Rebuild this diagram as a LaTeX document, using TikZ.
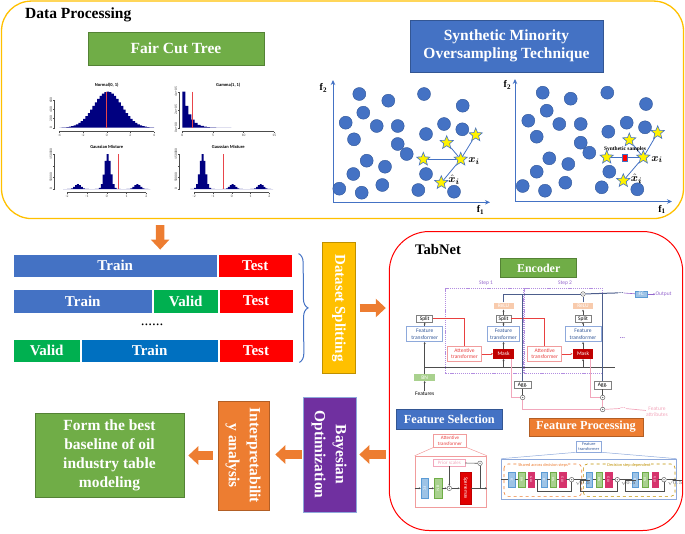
\documentclass[tikz,border=0pt]{standalone}
\usepackage{fontspec}
\setmainfont{Liberation Serif}
\newfontfamily\labelsans{Carlito}
\usepackage{amsmath}
\usepackage{bm}
\usepackage{graphicx}
\usepackage{tikz}
\usetikzlibrary{arrows.meta}
\usetikzlibrary{positioning}
\usetikzlibrary{calc}
\usetikzlibrary{shapes.geometric}
\usetikzlibrary{decorations.pathreplacing}

\definecolor{dpyellow}{HTML}{FFC000}
\definecolor{goldedge}{HTML}{BF9000}
\definecolor{leafgreen}{HTML}{70AD47}
\definecolor{officeblue}{HTML}{4472C4}
\definecolor{deepblue}{HTML}{0070C0}
\definecolor{testred}{HTML}{FF0000}
\definecolor{validgreen}{HTML}{00B050}
\definecolor{arroworange}{HTML}{ED7D31}
\definecolor{baypurple}{HTML}{7030A0}
\definecolor{histnavy}{HTML}{000080}
\definecolor{histred}{HTML}{E8454A}
\definecolor{ftblue}{HTML}{8EA9DB}
\definecolor{ftdark}{HTML}{2F5597}
\definecolor{attpink}{HTML}{F19C9C}
\definecolor{attred}{HTML}{E8403F}
\definecolor{maskred}{HTML}{C00000}
\definecolor{relupeach}{HTML}{F8CBAD}
\definecolor{bnlight}{HTML}{A9D18E}
\definecolor{fclight}{HTML}{9DC3E6}
\definecolor{fcedge}{HTML}{5B9BD5}
\definecolor{steppurple}{HTML}{B28DE0}
\definecolor{steptext}{HTML}{9466CC}
\definecolor{flowgray}{HTML}{4D4D4D}
\definecolor{topblue}{HTML}{4D5E8C}
\definecolor{pinkline}{HTML}{F2A7BC}
\definecolor{glupink}{HTML}{D6336C}
\definecolor{sparsered}{HTML}{E00000}

\tikzset{headtext/.style={font=\bfseries\fontsize{15.5}{18}\selectfont,
                          inner sep=0pt}}
\tikzset{hdbox/.style={fill=#1,
                       draw=#1!75!black,
                       line width=0.6pt,
                       inner sep=0pt,
                       text=white,
                       align=center,
                       font=\bfseries\fontsize{15.5}{18}\selectfont}}
\tikzset{seg/.style={draw=white,
                     line width=0.8pt,
                     inner sep=0pt,
                     text=white,
                     minimum height=23pt,
                     font=\bfseries\fontsize{15}{17}\selectfont}}
\tikzset{bigarrow/.style={draw=arroworange,
                          line width=8.5pt,
                          -{Triangle[width=18pt,length=10pt]}}}
\tikzset{splitbrace/.style={draw=officeblue,
                            line width=1pt,
                            decorate,
                            decoration={brace,amplitude=9pt}}}
\tikzset{histaxis/.style={draw=black!70,line width=0.3pt}}
\tikzset{histred line/.style={draw=histred,line width=0.8pt}}
\tikzset{ticklab/.style={font=\labelsans\fontsize{3.6}{3.6}\selectfont,
                         inner sep=0.6pt,
                         text=black!75}}
\tikzset{histtitle/.style={font=\labelsans\bfseries\fontsize{4.5}{4.5}\selectfont,
                           inner sep=0pt}}
\tikzset{axisline/.style={draw=officeblue,
                          line width=1pt,
                          {Stealth[length=5pt,width=4.5pt]}-{Stealth[length=5pt,width=4.5pt]}}}
\tikzset{axislabel/.style={font=\fontsize{10}{12}\selectfont,inner sep=0pt}}
\tikzset{bluedot/.style={circle,
                         fill=officeblue,
                         draw=ftdark,
                         line width=0.4pt,
                         minimum size=13pt,
                         inner sep=0pt}}
\tikzset{minority/.style={star,
                          star points=5,
                          star point ratio=2.3,
                          fill=yellow,
                          draw=officeblue,
                          line width=0.6pt,
                          minimum size=14pt,
                          inner sep=0pt}}
\tikzset{linkline/.style={draw=officeblue,line width=0.8pt}}
\tikzset{tabtext/.style={font=\labelsans\fontsize{5.5}{6.4}\selectfont,
                         inner sep=0pt,
                         align=center}}
\tikzset{ftbox/.style={tabtext,draw=ftblue,text=ftdark,line width=0.6pt,
                       minimum width=36pt,minimum height=15pt}}
\tikzset{splitbox/.style={tabtext,draw=gray,line width=0.5pt,
                          minimum width=16pt,minimum height=7pt}}
\tikzset{attbox/.style={tabtext,draw=attpink,text=attred,line width=0.6pt,
                        minimum width=34pt,minimum height=14.5pt}}
\tikzset{maskbox/.style={tabtext,fill=maskred,text=white,
                         minimum width=20.6pt,minimum height=10pt}}
\tikzset{relubox/.style={tabtext,fill=relupeach,text=white,
                         minimum width=20pt,minimum height=6.7pt}}
\tikzset{bnbox/.style={tabtext,fill=bnlight,text=white,
                       minimum width=21pt,minimum height=7pt}}
\tikzset{aggbox/.style={tabtext,draw=gray,line width=0.5pt,fill=white,
                        minimum width=17.4pt,minimum height=7.6pt}}
\tikzset{fcbox/.style={tabtext,fill=fclight,draw=fcedge,text=white,
                       minimum width=12.3pt,minimum height=6.3pt}}
\tikzset{vblock/.style={tabtext,text=white,line width=0.4pt,
                        font=\labelsans\fontsize{4}{4}\selectfont}}
\tikzset{opsum/.style={circle,
                       draw=flowgray,
                       fill=white,
                       line width=0.4pt,
                       minimum size=4.6pt,
                       inner sep=0pt,
                       path picture={\fill[flowgray] (path picture bounding box.center) circle (0.6pt);}}}
\tikzset{stepframe/.style={draw=steppurple,line width=0.6pt,dash pattern=on 1.2pt off 0.9pt}}
\tikzset{flow/.style={draw=flowgray,line width=0.6pt}}
\tikzset{redflow/.style={draw=attred,line width=0.6pt}}
\tikzset{pinkflow/.style={draw=pinkline,line width=0.7pt}}
\tikzset{topflow/.style={draw=topblue,line width=1pt}}
\tikzset{tinytip/.style={-{Stealth[length=2pt,width=2pt]}}}

\begin{document}
\begin{tikzpicture}[x=1pt,y=-1pt]
\useasboundingbox (0,0) rectangle (685,533);

% data processing panel
\node[draw=dpyellow,line width=1.3pt,rounded corners=30pt,inner sep=0pt,
      minimum width=682pt,minimum height=217.5pt] (dp) at (342.5,109.8) {};
\node[headtext,anchor=west] (dptitle) at (25,14.5) {Data Processing};
\node[hdbox=leafgreen,minimum width=176pt,minimum height=33pt] (fct) at (176,48.5) {Fair Cut Tree};
\node[hdbox=officeblue,minimum width=193pt,minimum height=52pt] (smote) at (506.5,46)
  {Synthetic Minority\\Oversampling Technique};

% histograms
\fill[histnavy] (59.3,127.7) -- plot[const plot,domain=-4:4,samples=41]
  ({106.7+11.84*\x},{127.7-36*exp(-0.35*(\x)*(\x))}) -- (154,127.7) -- cycle;
\draw[histred line] (106.7,91.7) -- (106.7,127.7);
\node[histtitle] (h1) at (106.7,85) {Normal(0, 1)};
\draw[histaxis] (59.3,131.5) -- (154,131.5);
\foreach \t in {-4,-2,...,4}
  \draw[histaxis] ({106.7+11.84*\t},131.5) -- ++(0,1.6) node[ticklab,below] (hxa\t) {\t};
\draw[histaxis] (54.5,127.7) -- (54.5,100.1);
\foreach \k/\l in {0/0,1/200,2/400,3/600}
  \draw[histaxis] (54.5,{127.7-9.2*\k}) -- ++(-1.6,0) node[ticklab,rotate=90,anchor=south] (hya\k) {\l};

\fill[histnavy] (182.3,127.7) -- plot[const plot,domain=0:8,samples=17]
  ({182.3+6.13*\x},{127.7-36*exp(-\x)}) -- (231.3,127.7) -- cycle;
\draw[histred line] (192.3,91.7) -- (192.3,127.7);
\node[histtitle] (h2) at (228.3,85) {Gamma(1, 1)};
\draw[histaxis] (182.3,131.5) -- (274.3,131.5);
\foreach \t in {0,5,10,15}
  \draw[histaxis] ({182.3+6.13*\t},131.5) -- ++(0,1.6) node[ticklab,below] (hxb\t) {\t};
\draw[histaxis] (179.5,127.7) -- (179.5,91.7);
\foreach \k/\l in {0/0e+00,1/2e+05,2/4e+05}
  \draw[histaxis] (179.5,{127.7-18*\k}) -- ++(-1.6,0) node[ticklab,rotate=90,anchor=south] (hyb\k) {\l};

\fill[histnavy] (63.1,189) -- plot[const plot,domain=-2.2:2.2,samples=45]
  ({106.7+19.8*\x},{189-35*(exp(-22*(\x)*(\x))+0.14*exp(-22*(\x+1.5)*(\x+1.5))+0.14*exp(-22*(\x-1.5)*(\x-1.5)))})
  -- (150.3,189) -- cycle;
\draw[histred line] (118.3,154) -- (118.3,189);
\node[histtitle] (h3) at (106.7,146.7) {Gaussian Mixture};
\draw[histaxis] (67.1,192.5) -- (146.3,192.5);
\foreach \t in {-2,...,2}
  \draw[histaxis] ({106.7+19.8*\t},192.5) -- ++(0,1.6) node[ticklab,below] (hxc\t) {\t};
\draw[histaxis] (54.5,189) -- (54.5,154);
\foreach \k in {0,1,2,3}
  \draw[histaxis] (54.5,{189-11.67*\k}) -- ++(-1.6,0);
\foreach \k/\l in {0/0,1/50000,3/150000}
  \node[ticklab,rotate=90,anchor=south] (hyc\k) at (52.9,{189-11.67*\k}) {\l};

\fill[histnavy] (190.5,189) -- plot[const plot,domain=-2.2:2.2,samples=45]
  ({231.7+18.75*\x},{189-35*(exp(-22*(\x+1.6)*(\x+1.6))+0.14*exp(-22*(\x)*(\x))+0.14*exp(-22*(\x-1.5)*(\x-1.5)))})
  -- (273,189) -- cycle;
\draw[histred line] (223.3,154) -- (223.3,189);
\node[histtitle] (h4) at (228.3,146.7) {Gaussian Mixture};
\draw[histaxis] (194.2,192.5) -- (269.2,192.5);
\foreach \t in {-2,...,2}
  \draw[histaxis] ({231.7+18.75*\t},192.5) -- ++(0,1.6) node[ticklab,below] (hxd\t) {\t};
\draw[histaxis] (179.5,189) -- (179.5,154);
\foreach \k in {0,1,2,3}
  \draw[histaxis] (179.5,{189-11.67*\k}) -- ++(-1.6,0);
\foreach \k/\l in {0/0,1/50000,3/150000}
  \node[ticklab,rotate=90,anchor=south] (hyd\k) at (177.9,{189-11.67*\k}) {\l};

% smote, before
\draw[axisline] (333,80) -- (333,202.3) -- (490,202.3);
\node[axislabel] (f2a) at (323.3,88) {\textbf{f}\textsubscript{\textbf{2}}};
\node[axislabel] (f1a) at (480.5,210) {\textbf{f}\textsubscript{\textbf{1}}};
\foreach \x/\y [count=\i] in
  {359.3/94,388.3/100.7,424/94,462.7/105.7,363.3/112.7,345.7/122.7,376.7/126,
   397.7/126,354/139.3,397.7/144,406.7/154,426/134,444/124,462.3/129.3,
   366.7/160.7,385/166.7,353.3/174,339.3/188.7,361.7/192.7,382.3/185,
   418.3/190,426/174,454/191.7}
  \node[bluedot] (pa\i) at (\x,\y) {};
\node[minority] (na1) at (446.7,142.7) {};
\node[minority] (na2) at (475.7,135) {};
\node[minority] (na3) at (423.3,159.3) {};
\node[minority] (xa) at (460.7,159.3) {};
\node[minority] (xha) at (441.3,182.7) {};
\draw[linkline] (xa) -- (na1);
\draw[linkline] (xa) -- (na2);
\draw[linkline] (xa) -- (na3);
\draw[linkline] (xa) -- (xha);
\node[axislabel,font=\fontsize{11}{13}\selectfont] (xal) at (474,161) {$\bm{x_i}$};
\node[axislabel,font=\fontsize{11}{13}\selectfont] (xhal) at (454,179.5) {$\hat{\bm{x}}_{\bm{i}}$};

% smote, after
\draw[axisline] (515,79) -- (515,201.5) -- (672,201.5);
\node[axislabel] (f2b) at (507.3,85) {\textbf{f}\textsubscript{\textbf{2}}};
\node[axislabel] (f1b) at (662,209.5) {\textbf{f}\textsubscript{\textbf{1}}};
\foreach \x/\y [count=\i] in
  {542.7/92.7,570.7/98.7,607.3/92.7,646/104,546.7/110.7,528.3/120.7,559.3/124,
   580.7/124,536.7/136.7,580.7/142.7,589.3/152.7,608.3/131.7,626.7/122.7,
   645/127.3,549.3/158.3,568.3/164,536.7/171.7,522.7/186,545/190.7,
   565.3/182.7,601.7/187.3,609.3/171.7,637.3/189.3}
  \node[bluedot] (pb\i) at (\x,\y) {};
\node[minority] (nb1) at (629.3,140) {};
\node[minority] (nb2) at (657.7,132.7) {};
\node[minority] (nb3) at (606.7,157.3) {};
\node[minority] (xb) at (643.3,157.3) {};
\node[minority] (xhb) at (623.3,180.7) {};
\node[draw=officeblue,fill=testred,line width=0.4pt,inner sep=0pt,
      minimum width=5pt,minimum height=7pt] (synth) at (625,157.3) {};
\draw[linkline] (xb) -- (nb1);
\draw[linkline] (xb) -- (nb2);
\draw[linkline] (nb3) -- (synth) -- (xb);
\draw[linkline] (xb) -- (xhb);
\node[font=\bfseries\fontsize{5.5}{6}\selectfont,inner sep=0pt] (synthlab) at (625,149.3) {Synthetic samples};
\node[axislabel,font=\fontsize{11}{13}\selectfont] (xbl) at (657,159.5) {$\bm{x_i}$};
\node[axislabel,font=\fontsize{11}{13}\selectfont] (xhbl) at (636.5,178.5) {$\hat{\bm{x}}_{\bm{i}}$};

% dataset splitting
\node[seg,fill=officeblue,minimum width=204.3pt,anchor=west] (train1) at (12.7,265.5) {Train};
\node[seg,fill=testred,minimum width=74pt,right=0pt of train1] (test1) {Test};
\node[seg,fill=officeblue,minimum width=139.3pt,minimum height=24pt,anchor=west] (train2) at (12.7,301) {Train};
\node[seg,fill=validgreen,minimum width=65pt,minimum height=24pt,right=0pt of train2] (valid2) {Valid};
\node[seg,fill=testred,minimum width=74pt,minimum height=24pt,right=0pt of valid2] (test2) {Test};
\node[font=\fontsize{15}{17}\selectfont,inner sep=0pt] (more) at (152,325) {......};
\node[seg,fill=validgreen,minimum width=67.3pt,anchor=west] (valid3) at (12.7,350.5) {Valid};
\node[seg,fill=deepblue,minimum width=137pt,right=0pt of valid3] (train3) {Train};
\node[seg,fill=testred,minimum width=74pt,right=0pt of train3] (test3) {Test};
\draw[splitbrace] ([xshift=6pt]test1.north east) -- ([xshift=6pt]test3.south east);
\node[hdbox=dpyellow,minimum width=32.6pt,minimum height=130.6pt,
      font=\bfseries\fontsize{15}{18}\selectfont] (dsplit) at (339,308)
  {\rotatebox{-90}{Dataset Splitting}};

% tabnet panel
\node[draw=testred,line width=1pt,rounded corners=40pt,inner sep=0pt,
      minimum width=293.4pt,minimum height=299pt] (tabnet) at (536,381) {};
\node[headtext,font=\bfseries\fontsize{14.6}{17}\selectfont,anchor=west] (tabtitle) at (415,250) {TabNet};
\node[hdbox=leafgreen,minimum width=76pt,minimum height=19.4pt,
      font=\bfseries\fontsize{12}{14}\selectfont] (enc) at (538.7,268) {Encoder};

% encoder, steps
\draw[stepframe] (445,288.3) rectangle (523.5,373.3);
\draw[stepframe] (524.5,288.3) rectangle (602.7,373.3);
\node[tabtext,text=steptext] (st1) at (486,283.6) {Step 1};
\node[tabtext,text=steptext] (st2) at (565,283.6) {Step 2};

\node[splitbox] (split0) at (424.7,318.7) {Split};
\node[ftbox] (ft0) at (424.7,334.2) {Feature\\transformer};
\node[bnbox] (bn0) at (424.7,377.3) {BN};
\node[tabtext] (feats) at (424.7,393.3) {Features};

\node[attbox] (att1) at (464.5,353.8) {Attentive\\transformer};
\node[maskbox] (mask1) at (503.5,353.8) {Mask};
\node[ftbox,minimum width=32pt] (ft1) at (503.5,334.2) {Feature\\transformer};
\node[splitbox,minimum width=15pt] (split1) at (503.5,318.7) {Split};
\node[relubox] (relu1) at (503.5,306) {ReLU};

\node[attbox] (att2) at (544.7,353.8) {Attentive\\transformer};
\node[maskbox] (mask2) at (583,353.8) {Mask};
\node[ftbox] (ft2) at (583,334.2) {Feature\\transformer};
\node[splitbox] (split2) at (583,318.7) {Split};
\node[relubox] (relu2) at (583,306) {ReLU};

\node[opsum] (sumtop) at (583,294) {};
\node[aggbox] (agg1) at (522.7,384.8) {Agg.};
\node[aggbox] (agg2) at (602.7,385) {Agg.};
\node[opsum] (sum1) at (522.7,397.5) {};
\node[opsum] (sum2) at (602.7,397.5) {};
\node[opsum] (sum3) at (602.7,409.5) {};
\node[tabtext,text=topblue,font=\bfseries\fontsize{7}{7}\selectfont] (dotsA) at (621,292.8) {...};
\node[fcbox] (fcout) at (641.2,294.2) {FC};
\node[tabtext,text=steptext] (out) at (663.5,294.2) {Output};
\node[tabtext,text=steptext,font=\bfseries\fontsize{7}{7}\selectfont] (dotsB) at (622.5,338.5) {...};
\node[tabtext,text=pinkline,font=\bfseries\fontsize{7}{7}\selectfont] (dotsC) at (623,408.3) {...};
\node[tabtext,text=pinkline] (attr) at (657,411.5) {Feature\\attributes};

% encoder, connections
\coordinate (base0) at (424.7,367.3);
\coordinate (base1) at (615,367.3);
\draw[flow] (base0) -- (base1);
\draw[flow,tinytip] (feats) -- (bn0);
\draw[flow,tinytip] (bn0) -- (ft0);
\draw[flow,tinytip] (ft0) -- (split0);
\draw[flow,tinytip] (mask1.south |- base0) -- (mask1);
\draw[flow,tinytip] (mask1) -- (ft1);
\draw[flow,tinytip] (ft1) -- (split1);
\draw[flow,tinytip] (split1) -- (relu1);
\draw[flow,tinytip] (mask2.south |- base0) -- (mask2);
\draw[flow,tinytip] (mask2) -- (ft2);
\draw[flow,tinytip] (ft2) -- (split2);
\draw[flow,tinytip] (split2) -- (relu2);
\draw[redflow] (split0.east) -| (att1.north);
\draw[redflow] (split1.east) -| (att2.north);
\draw[redflow,tinytip] (att1) -- (mask1);
\draw[redflow,tinytip] (att2) -- (mask2);
\draw[topflow] (relu1.north) |- (sumtop.west);
\draw[topflow] (relu2) -- (sumtop);
\draw[topflow] (sumtop) -- (dotsA);
\draw[topflow] (agg1.north) -- (agg1.north |- sumtop);
\draw[topflow] (agg2.north) -- (agg2.north |- sumtop);
\draw[flow,draw=steptext] (dotsA) -- (fcout);
\draw[flow,draw=steptext,tinytip] (fcout) -- (out);
\draw[flow] (agg1) -- (sum1);
\draw[flow] (agg2) -- (sum2);
\draw[pinkflow] ([xshift=-3pt]mask1.south east) |- (sum1.west);
\draw[pinkflow] ([xshift=-3pt]mask2.south east) |- (sum2.west);
\draw[pinkflow] (sum1.south) |- (sum3.west);
\draw[pinkflow] (sum2) -- (sum3);
\draw[pinkflow] (sum3) -- (dotsC);
\draw[pinkflow] (dotsC) -- (attr);

% feature selection
\node[hdbox=officeblue,minimum width=106.7pt,minimum height=20pt,
      font=\bfseries\fontsize{12.3}{14}\selectfont] (fsel) at (449.3,419.3) {Feature Selection};
\node[attbox,minimum width=33.4pt,minimum height=13.3pt,
      font=\labelsans\fontsize{5}{5.8}\selectfont] (fsatt) at (450,440.7) {Attentive\\transformer};
\node[draw=attpink,line width=0.6pt,inner sep=0pt,
      minimum width=71.7pt,minimum height=51.3pt] (fsframe) at (450.8,481.7) {};
\draw[draw=attpink,line width=0.5pt] (fsatt.south west) -- (fsframe.north west);
\draw[draw=attpink,line width=0.5pt] (fsatt.south east) -- (fsframe.north east);
\node[tabtext,draw=pinkline,text=pinkline,line width=0.5pt,
      font=\labelsans\fontsize{5}{5}\selectfont,
      minimum width=31.7pt,minimum height=6.7pt] (prior) at (449.3,462.7) {Prior scales};
\node[opsum] (psum) at (480,463.3) {};
\node[vblock,fill=fclight,draw=fcedge,minimum width=7.3pt,minimum height=20pt] (fsfc) at (424.7,488.3) {\rotatebox{-90}{FC}};
\node[vblock,fill=bnlight,draw=leafgreen,minimum width=7.4pt,minimum height=20pt] (fsbn) at (438,488.3) {\rotatebox{-90}{BN}};
\node[opsum] (fssum) at (449.3,488.3) {};
\node[vblock,fill=sparsered,draw=maskred,minimum width=11pt,minimum height=32.3pt,
      font=\labelsans\fontsize{5}{5}\selectfont] (sparse) at (465.5,488) {\rotatebox{-90}{Sparsemax}};
\draw[flow,tinytip] (fsframe.west |- fsfc) -- (fsfc);
\draw[flow,tinytip] (fsfc) -- (fsbn);
\draw[flow,tinytip] (fsbn) -- (fssum);
\draw[flow,tinytip] (fssum) -- (fssum -| sparse.west);
\draw[flow,tinytip] (sparse.east |- fssum) -- (fsframe.east |- fssum);
\draw[flow,tinytip] (prior) -- (fssum);
\draw[flow] (prior) -- (psum);
\draw[flow] (psum) -- (psum |- fssum);

% feature processing
\node[hdbox=arroworange,minimum width=114pt,minimum height=18pt,
      font=\bfseries\fontsize{12.3}{14}\selectfont] (fproc) at (586,427) {Feature Processing};
\node[ftbox,font=\labelsans\fontsize{4.3}{5}\selectfont,
      minimum width=25.7pt,minimum height=10.7pt] (fptr) at (588.8,446.7) {Feature\\transformer};
\node[draw=ftblue,line width=0.6pt,inner sep=0pt,
      minimum width=174.3pt,minimum height=40.7pt] (fpframe) at (588.8,479.3) {};
\draw[draw=ftblue,line width=0.5pt] (fptr.south west) -- (fpframe.north west);
\draw[draw=ftblue,line width=0.5pt] (fptr.south east) -- (fpframe.north east);
\draw[draw=arroworange,line width=0.6pt,dashed,rounded corners=4pt] (504,464) rectangle (581.7,496.3);
\draw[draw=goldedge,line width=0.6pt,dashed,rounded corners=4pt] (583.3,464) rectangle (675,496.3);
\node[tabtext,fill=white,inner sep=0.4pt,text=arroworange,
      font=\labelsans\fontsize{4.3}{4.3}\selectfont] (sharedlab) at (543,465) {Shared across decision steps};
\node[tabtext,fill=white,inner sep=0.4pt,text=goldedge,
      font=\labelsans\fontsize{4.3}{4.3}\selectfont] (deplab) at (629,465) {Decision step dependent};
\foreach \n/\x/\t/\c/\e in
  {fc1/511.7/FC/fclight/fcedge, bn1/521.7/BN/bnlight/leafgreen, glu1/531.3/GLU/glupink/glupink,
   fc2/544/FC/fclight/fcedge, bn2/553.3/BN/bnlight/leafgreen, glu2/562.5/GLU/glupink/glupink,
   fc3/589.3/FC/fclight/fcedge, bn3/599.3/BN/bnlight/leafgreen, glu3/608.5/GLU/glupink/glupink,
   fc4/635/FC/fclight/fcedge, bn4/645/BN/bnlight/leafgreen, glu4/655/GLU/glupink/glupink}
  \node[vblock,fill=\c,draw=\e,minimum width=6.5pt,minimum height=15.3pt,
        font=\labelsans\fontsize{3.3}{3.3}\selectfont] (\n) at (\x,479.7) {\rotatebox{-90}{\t}};
\node[opsum] (fps1) at (571.7,479.7) {};
\node[opsum] (fps2) at (617.3,479.7) {};
\node[opsum] (fps3) at (664,479.7) {};
\foreach \s in {1,2,3}
  \node[tabtext,text=flowgray,font=\fontsize{3.5}{3.5}\selectfont,anchor=west] (sq\s) at ([xshift=1pt,yshift=-3pt]fps\s.east) {$\sqrt{0.5}$};
\draw[flow] (fpframe.west |- fc1) -- (fc1) -- (bn1) -- (glu1) -- (fc2) -- (bn2) -- (glu2) -- (fps1)
  -- (fc3) -- (bn3) -- (glu3) -- (fps2) -- (fc4) -- (bn4) -- (glu4) -- (fps3) -- (fpframe.east |- fps3);
\draw[flow] ($(glu1.east)!0.5!(fc2.west)$) -- ++(0,11.6) -| (fps1.south);
\draw[flow] ($(fps1.east)!0.5!(fc3.west)$) -- ++(0,11.6) -| (fps2.south);
\draw[flow] ($(fps2.east)!0.5!(fc4.west)$) -- ++(0,11.6) -| (fps3.south);

% last stages
\node[hdbox=baypurple,draw=ftblue,minimum width=53pt,minimum height=115pt,
      font=\bfseries\fontsize{15.5}{21}\selectfont] (bayes) at (329.5,454.5)
  {\rotatebox{-90}{\begin{tabular}{@{}c@{}}Bayesian\\Optimization\end{tabular}}};
\node[hdbox=arroworange,minimum width=51pt,minimum height=109pt,
      font=\bfseries\fontsize{15.5}{21}\selectfont] (interp) at (243.5,455.5)
  {\rotatebox{-90}{\begin{tabular}{@{}c@{}}Interpretabilit\\y analysis\end{tabular}}};
\node[hdbox=leafgreen,minimum width=149pt,minimum height=84pt,
      font=\bfseries\fontsize{15.5}{19}\selectfont] (best) at (109.5,455)
  {Form the best\\baseline of oil\\industry table\\modeling};

% arrows
\draw[bigarrow,shorten <=6pt,shorten >=4pt] ([xshift=-182.5pt]dp.south) -- ([xshift=45pt]train1.north);
\draw[bigarrow,shorten <=4pt,shorten >=3pt] (dsplit.east) -- (dsplit.east -| tabnet.west);
\draw[bigarrow,shorten <=3pt,shorten >=3pt] (bayes.east -| tabnet.west) -- (bayes.east);
\draw[bigarrow,shorten <=1pt,shorten >=6pt] (bayes.west) -- (bayes.west -| interp.east);
\draw[bigarrow,shorten <=5pt,shorten >=4pt] (interp.west) -- (interp.west -| best.east);

\end{tikzpicture}
\end{document}
